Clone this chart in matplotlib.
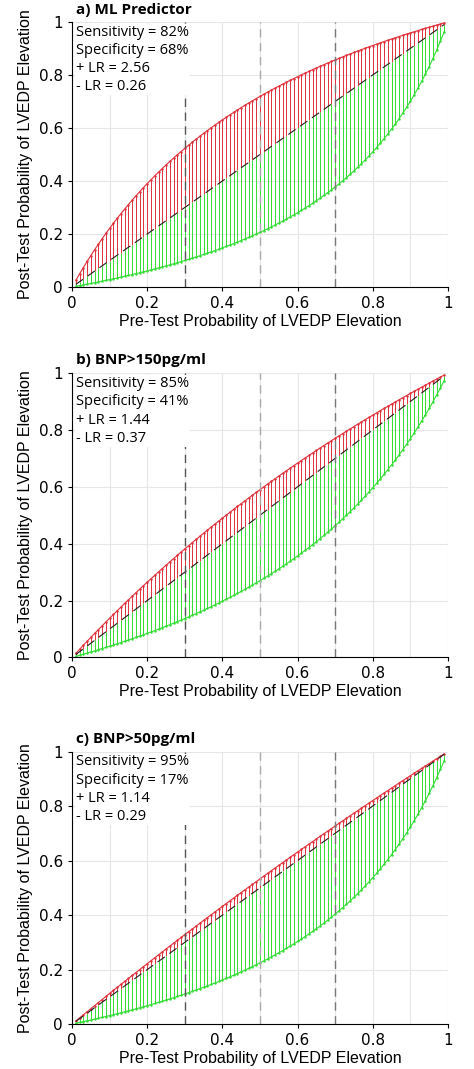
import numpy as np
import matplotlib
matplotlib.use("Agg")
from matplotlib import pyplot as plt

titles = ["a) ML Predictor", "b) BNP>150pg/ml", "c) BNP>50pg/ml"]
sensitivity = [82, 85, 95]
specificity = [68, 41, 17]
pos_lr = [2.56, 1.44, 1.14]
neg_lr = [0.26, 0.37, 0.29]
pre_test = np.arange(1, 100) / 100.0
ref_lines = [0.3, 0.5, 0.7]
ref_colors = ["#555555", "#aaaaaa", "#777777"]

# axes rectangles in figure fractions
boxes = [[0.152, 0.7315, 0.793, 0.248],
         [0.152, 0.385, 0.793, 0.266],
         [0.152, 0.042, 0.793, 0.255]]


def post_prob(p, lr):
    odds = p / (1 - p) * lr
    return odds / (1 + odds)


fig = plt.figure(figsize=(4.74, 10.69), dpi=100)
for i in range(3):
    ax = fig.add_axes(boxes[i])
    up = post_prob(pre_test, pos_lr[i])
    lo = post_prob(pre_test, neg_lr[i])
    ax.vlines(pre_test, pre_test, up, color="#e0303a", lw=0.7)
    ax.vlines(pre_test, lo, pre_test, color="#33dd33", lw=0.7)
    ax.plot(pre_test, up, color="#e0303a", lw=0.8, marker=".", ms=1.5)
    ax.plot(pre_test, lo, color="#33dd33", lw=0.8, marker=".", ms=1.5)
    ax.plot(pre_test, pre_test, color="#222222", lw=0.8, dashes=(8, 5))
    for x, c in zip(ref_lines, ref_colors):
        ax.axvline(x, color=c, lw=1.0, dashes=(6, 4))
    ax.set_xlim(0, 1)
    ax.set_ylim(0, 1)
    ax.set_xticks([0, 0.2, 0.4, 0.6, 0.8, 1], ["0", "0.2", "0.4", "0.6", "0.8", "1"])
    ax.set_yticks([0, 0.2, 0.4, 0.6, 0.8, 1], ["0", "0.2", "0.4", "0.6", "0.8", "1"])
    ax.set_xticks(np.arange(0.1, 1.0, 0.2), minor=True)
    ax.grid(True, which="both", color="#e6e6e6", lw=0.8)
    ax.set_axisbelow(True)
    for s in ["top", "right"]:
        ax.spines[s].set_visible(False)
    ax.tick_params(labelsize=11, length=3, which="both")
    ax.tick_params(which="minor", length=0)
    ax.set_xlabel("Pre-Test Probability of LVEDP Elevation", fontsize=11.5, family="Liberation Sans",
                  labelpad=2)
    ax.set_ylabel("Post-Test Probability of LVEDP Elevation", fontsize=11.5, family="Liberation Sans")
    ax.text(0.01, 1.02, titles[i], transform=ax.transAxes, fontsize=11, fontweight="bold", family="Open Sans",
            va="bottom")
    info = (f"Sensitivity = {sensitivity[i]}%\nSpecificity = {specificity[i]}%\n"
            f"+ LR = {pos_lr[i]:.2f}\n- LR = {neg_lr[i]:.2f}")
    ax.text(0.01, 0.99, info, transform=ax.transAxes, fontsize=10.5, family="Open Sans",
            va="top", linespacing=1.3, bbox=dict(facecolor="white", edgecolor="none", pad=0.5))

fig.savefig("out.png", dpi=100)
